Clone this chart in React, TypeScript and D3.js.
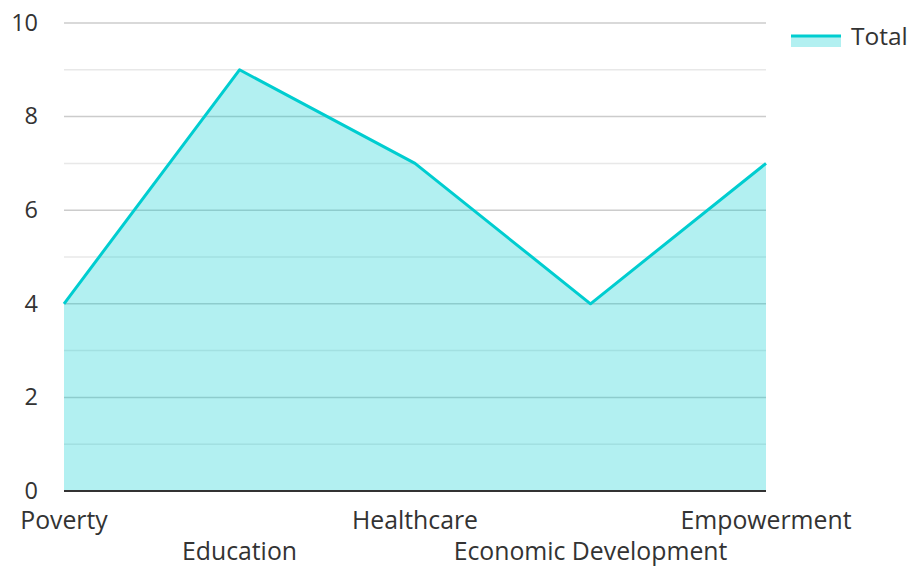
import React from 'react';
import * as d3 from 'd3';

const categories = ['Poverty', 'Education', 'Healthcare', 'Economic Development', 'Empowerment'];
const totals = [4, 9, 7, 4, 7];
const yLabels = [0, 2, 4, 6, 8, 10];
const gridValues = [0, 1, 2, 3, 4, 5, 6, 7, 8, 9, 10];

const W = 907;
const H = 566;
const left = 64;
const right = 766;
const top = 23;
const bottom = 491;

const App: React.FC = () => {
  const x = d3.scalePoint<string>().domain(categories).range([left, right]);
  const y = d3.scaleLinear().domain([0, 10]).range([bottom, top]);

  const pts = categories.map((c, i) => ({ c, v: totals[i] }));
  const area = d3.area<{ c: string; v: number }>()
    .x(d => x(d.c)!)
    .y0(y(0))
    .y1(d => y(d.v));
  const line = d3.line<{ c: string; v: number }>()
    .x(d => x(d.c)!)
    .y(d => y(d.v));

  const font = '"Open Sans", "Noto Sans", sans-serif';

  return (
    <svg width={W} height={H} style={{ position: 'absolute', left: 0, top: 0 }} fontFamily={font}>
      {gridValues.map(g => (
        <line key={g} x1={left} x2={right} y1={y(g)} y2={y(g)}
          stroke={g % 2 === 0 ? '#cccccc' : '#e8e8e8'} strokeWidth={1.5} />
      ))}
      <path d={area(pts)!} fill="rgba(0,206,209,0.3)" />
      <path d={line(pts)!} fill="none" stroke="#00cdd0" strokeWidth={3} strokeLinejoin="round" />
      <line x1={left} x2={right} y1={bottom} y2={bottom} stroke="#333333" strokeWidth={2} />
      {yLabels.map(v => (
        <text key={v} x={38} y={y(v)} dy="0.33em" textAnchor="end" fontSize={23.5} fill="#333333">{v}</text>
      ))}
      {categories.map((c, i) => (
        <text key={c} x={x(c)!} y={i % 2 === 0 ? 529 : 560} textAnchor="middle" fontSize={24.8} fill="#333333">{c}</text>
      ))}
      <rect x={791} y={35} width={50} height={12} fill="rgba(0,206,209,0.3)" />
      <line x1={791} x2={841} y1={36} y2={36} stroke="#00cdd0" strokeWidth={3} />
      <text x={851} y={36} dy="0.35em" fontSize={24.5} fill="#333333">Total</text>
    </svg>
  );
};

export default App;
